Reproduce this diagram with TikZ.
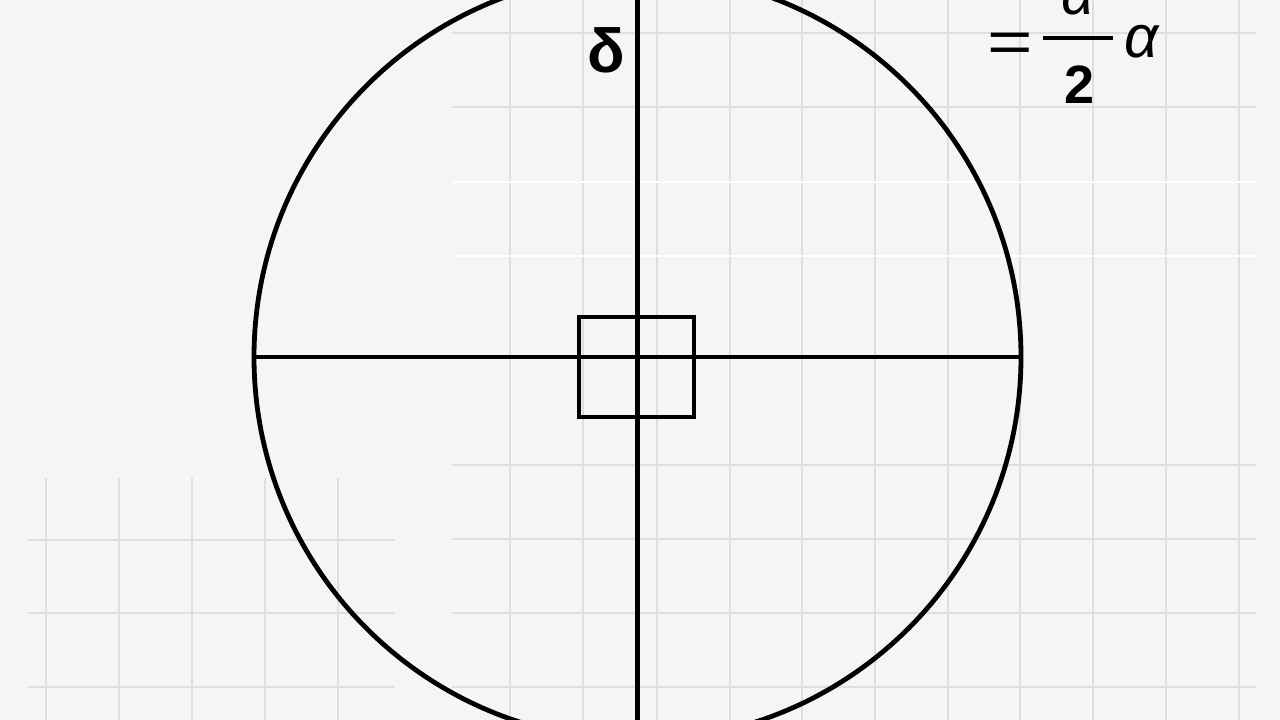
\documentclass[tikz,border=0pt]{standalone}
\usepackage{fontspec}
\setmainfont{Liberation Sans}
\begin{document}
\begin{tikzpicture}[x=1pt,y=-1pt,
  gridgray/.style={draw=black!13,line width=1.3pt},
  gridwhite/.style={draw=white,line width=2pt},
  ink/.style={draw=black,line width=4.8pt},
  lbl/.style={inner sep=0pt,anchor=base}]
\useasboundingbox (0,0) rectangle (1280,720);
\fill[black!4] (0,0) rectangle (1280,720);
% right grid
\foreach \x in {510,583,657,730,802,875,948,1020,1093,1166,1239}
  \draw[gridgray] (\x,0) -- (\x,720);
\foreach \y in {33,107,465,539,613,687}
  \draw[gridgray] (452,\y) -- (1256,\y);
\foreach \y in {182,256}
  \draw[gridwhite] (452,\y) -- (1256,\y);
% left bottom grid
\foreach \x in {46,119,192,265,338}
  \draw[gridgray] (\x,478) -- (\x,720);
\foreach \y in {540,613,687}
  \draw[gridgray] (28,\y) -- (395,\y);
% main figure
\coordinate (c) at (637.5,357);
\coordinate (l) at (254,357);
\coordinate (r) at (1021,357);
\coordinate (t) at (637.5,-5);
\coordinate (b) at (637.5,725);
\draw[ink] (c) circle[radius=383.5];
\draw[ink] (l) -- (r);
\draw[ink] (t) -- (b);
\draw[ink] (579,317) rectangle (694,417);
\node[lbl,font=\fontsize{62}{70}\selectfont\bfseries] (delta) at (606,72) {δ};
% formula
\node[lbl,font=\fontsize{60}{66}\selectfont,xscale=1.3] (eq) at (1010,62) {=};
\coordinate (fl) at (1043,38);
\coordinate (fr) at (1113,38);
\draw[draw=black,line width=4.5pt] (fl) -- (fr);
\node[lbl,font=\fontsize{58}{60}\selectfont\itshape] (num) at (1078,14) {α};
\node[lbl,font=\fontsize{54}{60}\selectfont\bfseries] (two) at (1080,103) {2};
\node[lbl,font=\fontsize{60}{66}\selectfont\itshape] (alpha) at (1142,57) {α};
\end{tikzpicture}
\end{document}
